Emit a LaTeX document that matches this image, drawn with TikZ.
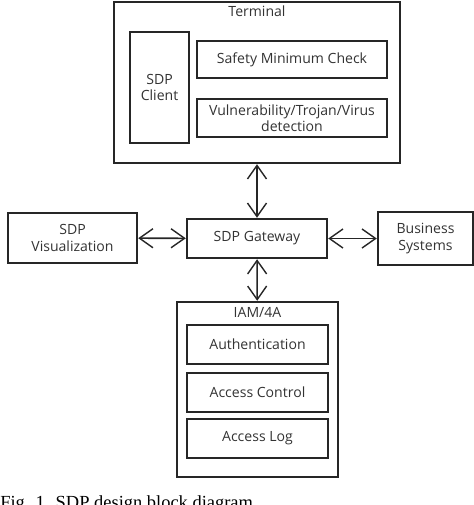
\documentclass[tikz,border=0pt]{standalone}
\usepackage{fontspec}
\setmainfont{Open Sans}
\newfontfamily\capfont{Liberation Serif}
\usetikzlibrary{arrows.meta}
\begin{document}
\begin{tikzpicture}[
    blk/.style={draw=black!85, line width=0.9pt, text=black!80, align=center,
      inner sep=0pt, font=\fontsize{8}{9.4}\selectfont},
    outer/.style={blk, line width=1.4pt},
    link/.style={{Straight Barb[length=0.27cm,width=0.38cm,line width=0.8pt]}-{Straight Barb[length=0.27cm,width=0.38cm,line width=0.8pt]},
      line width=0.9pt, draw=black!85}
  ]
  \useasboundingbox (0,0) rectangle (9.48,-10.1);
  % terminal side
  \draw
    (5.14,-1.65) node[outer, minimum width=5.72cm, minimum height=3.22cm] (terminal){}
    (5.14,-0.22) node[blk, draw=none] (terminallbl){Terminal}
    (3.19,-1.75) node[blk, minimum width=1.18cm, minimum height=2.22cm] (client){SDP\\Client}
    (5.84,-1.19) node[blk, minimum width=3.8cm, minimum height=0.74cm] (safety){Safety Minimum Check}
    (5.84,-2.36) node[blk, minimum width=3.8cm, minimum height=0.76cm] (virus){Vulnerability/Trojan/Virus\\detection};
  % middle row
  \draw
    (5.14,-4.77) node[outer, minimum width=2.8cm, minimum height=0.78cm] (gateway){SDP Gateway}
    (1.45,-4.76) node[outer, minimum width=2.58cm, minimum height=1.0cm] (visual){SDP\\Visualization}
    (8.51,-4.77) node[outer, minimum width=1.9cm, minimum height=1.06cm] (business){Business\\Systems};
  % iam side
  \draw
    (5.15,-7.79) node[outer, minimum width=3.22cm, minimum height=3.5cm] (iam){}
    (5.15,-6.24) node[blk, draw=none] (iamlbl){IAM/4A}
    (5.15,-6.89) node[blk, minimum width=2.82cm, minimum height=0.78cm] (auth){Authentication}
    (5.15,-7.85) node[blk, minimum width=2.82cm, minimum height=0.78cm] (control){Access Control}
    (5.15,-8.77) node[blk, minimum width=2.82cm, minimum height=0.78cm] (log){Access Log};
  \node[anchor=north west, inner sep=0pt, font=\capfont\fontsize{10.5}{12}\selectfont] (caption) at (0,-9.9) {Fig. 1. SDP design block diagram};
  \begin{scope}[link]
    \draw (terminal) to (gateway);
    \draw (gateway) to (iam);
    \draw (visual) to (gateway);
    \draw (gateway) to (business);
  \end{scope}
\end{tikzpicture}
\end{document}
